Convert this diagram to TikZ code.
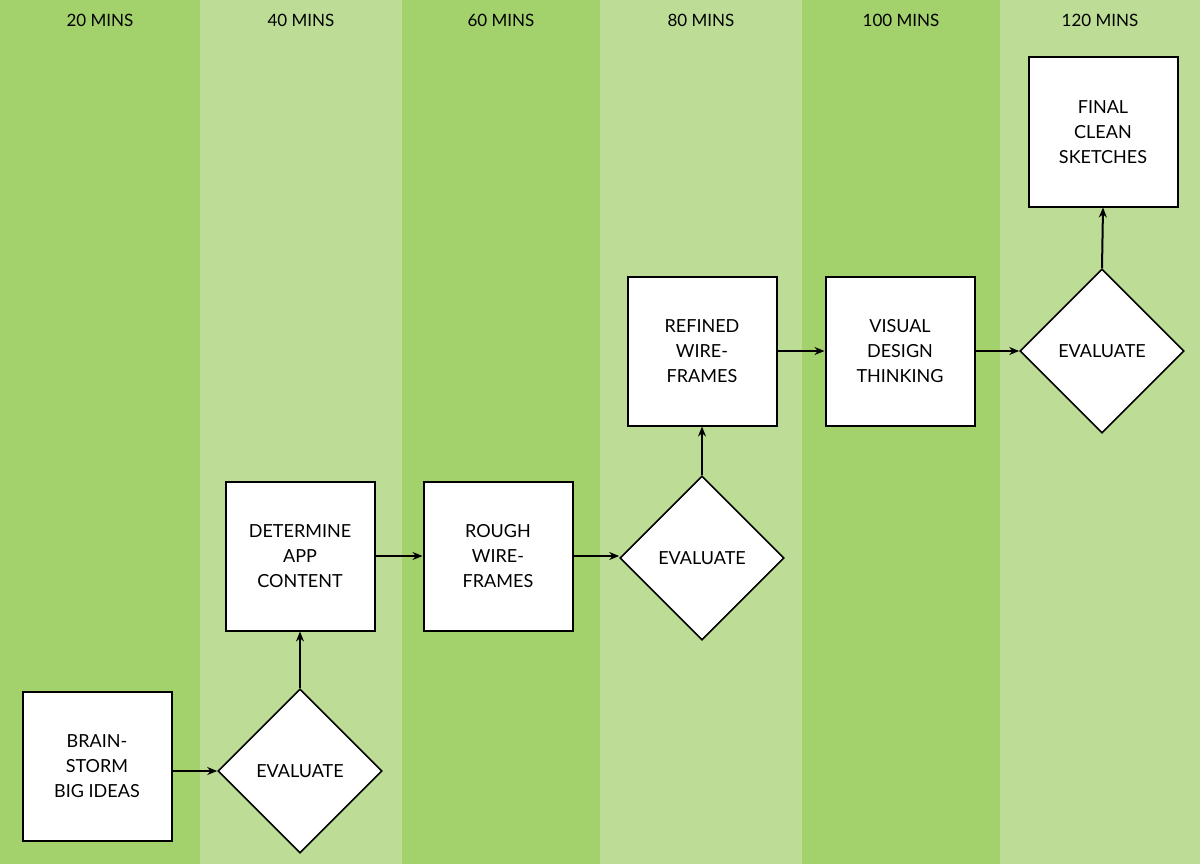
\documentclass[tikz,border=0pt]{standalone}
\usepackage{fontspec}
\setmainfont{Lato}
\usetikzlibrary{shapes.geometric,arrows.meta}
\definecolor{dg}{HTML}{A3D16B}
\definecolor{lg}{HTML}{BDDD96}
\begin{document}
\begin{tikzpicture}[x=1pt,y=-1pt,
  box/.style={draw=black,line width=2pt,fill=white,minimum width=149pt,minimum height=149pt,align=center,inner sep=0pt,font=\fontsize{18}{25}\selectfont},
  dia/.style={diamond,draw=black,line width=1.6pt,fill=white,minimum width=164pt,minimum height=164pt,inner sep=0pt,font=\fontsize{18}{25}\selectfont},
  arr/.style={line width=2pt,-{Stealth[length=10pt,width=8pt]}},
  hdr/.style={font=\fontsize{17}{20}\selectfont}]
\useasboundingbox (0,0) rectangle (1200,864);
\fill[dg] (0,0) rectangle (200,864);
\fill[lg] (200,0) rectangle (402,864);
\fill[dg] (402,0) rectangle (600,864);
\fill[lg] (600,0) rectangle (802,864);
\fill[dg] (802,0) rectangle (1000,864);
\fill[lg] (1000,0) rectangle (1200,864);
\node[hdr] (h1) at (100,20) {20 MINS};
\node[hdr] (h2) at (301,20) {40 MINS};
\node[hdr] (h3) at (501,20) {60 MINS};
\node[hdr] (h4) at (701,20) {80 MINS};
\node[hdr] (h5) at (901,20) {100 MINS};
\node[hdr] (h6) at (1100,20) {120 MINS};
\node[box] (b1) at (97,766) {BRAIN-\\STORM\\BIG IDEAS};
\node[dia] (e1) at (300,771) {EVALUATE};
\node[box] (b2) at (300,556) {DETERMINE\\APP\\CONTENT};
\node[box] (b3) at (498,556) {ROUGH\\WIRE-\\FRAMES};
\node[dia] (e2) at (702,558) {EVALUATE};
\node[box] (b4) at (702,351) {REFINED\\WIRE-\\FRAMES};
\node[box] (b5) at (900,351) {VISUAL\\DESIGN\\THINKING};
\node[dia] (e3) at (1102,351) {EVALUATE};
\node[box] (b6) at (1103,132) {FINAL\\CLEAN\\SKETCHES};
\draw[arr] (b1.east|-e1.west) -- (e1.west);
\draw[arr] (e1.north) -- (b2.south);
\draw[arr] (b2) -- (b3);
\draw[arr] (b3.east) -- (e2.west|-b3.east);
\draw[arr] (e2.north) -- (b4.south);
\draw[arr] (b4) -- (b5);
\draw[arr] (b5.east) -- (e3.west);
\draw[arr] (e3.north) -- (b6.south);
\end{tikzpicture}
\end{document}
